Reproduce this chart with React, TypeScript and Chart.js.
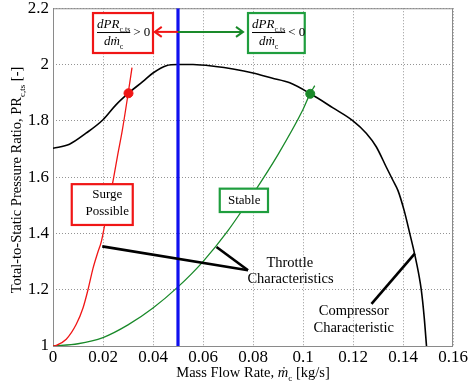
import React, { useEffect, useRef } from 'react';
import { Chart, registerables } from 'chart.js';

Chart.register(...registerables);

// ---------- data ----------
const compressorFlow = [0, 0.0066, 0.0132, 0.02, 0.025, 0.0304, 0.036, 0.04, 0.0453, 0.05, 0.056, 0.065, 0.072, 0.08, 0.0875, 0.0947, 0.103, 0.112, 0.12, 0.1253, 0.1293, 0.1333, 0.136, 0.138, 0.1405, 0.1427, 0.1453, 0.1473, 0.1485, 0.1494];
const compressorPR = [1.7025, 1.717, 1.756, 1.804, 1.855, 1.9, 1.94, 1.97, 1.996, 2.0, 2.0, 1.993, 1.984, 1.97, 1.952, 1.935, 1.896, 1.846, 1.8, 1.756, 1.708, 1.636, 1.588, 1.552, 1.48, 1.4, 1.3, 1.2, 1.1, 1.0];

const surgeThrottleFlow = [0, 0.0013, 0.0053, 0.0093, 0.012, 0.014, 0.016, 0.018, 0.0193, 0.0215, 0.0243, 0.0259, 0.0277, 0.03, 0.0316];
const surgeThrottlePR = [1, 1.002, 1.024, 1.077, 1.135, 1.2, 1.276, 1.335, 1.37, 1.47, 1.6, 1.68, 1.765, 1.894, 1.989];

const stableThrottleFlow = [0, 0.01, 0.02, 0.03, 0.04, 0.05, 0.06, 0.07, 0.08, 0.09, 0.1, 0.1027, 0.1047];
const stableThrottlePR = [1, 1.008, 1.03, 1.075, 1.135, 1.21, 1.3, 1.41, 1.54, 1.68, 1.84, 1.894, 1.925];

const operatingFlow = [0.0302, 0.1029];
const operatingPR = [1.898, 1.896];

const surgeLimitFlow = 0.05;

const xTicks = [0, 0.02, 0.04, 0.06, 0.08, 0.1, 0.12, 0.14, 0.16];
const yTicks = [1, 1.2, 1.4, 1.6, 1.8, 2, 2.2];
const xTickLabels = ['0', '0.02', '0.04', '0.06', '0.08', '0.1', '0.12', '0.14', '0.16'];
const yTickLabels = ['1', '1.2', '1.4', '1.6', '1.8', '2', '2.2'];

// ---------- styles ----------
const FONT = "'Liberation Serif','Times New Roman',Times,serif";
const RED = '#f01616';
const GREEN = '#1a8a2a';
const BOX_GREEN = '#1f9e3e';
const BLUE = '#1010ee';
const GRID = 'rgba(0,0,0,0.42)';

type Seg = { t: string; sub?: boolean; it?: boolean };

function segFont(size: number, s: Seg) {
  return `${s.it ? 'italic ' : ''}${s.sub ? Math.round(size * 0.65) : size}px ${FONT}`;
}
function richWidth(ctx: CanvasRenderingContext2D, segs: Seg[], size: number) {
  let w = 0;
  for (const s of segs) {
    ctx.font = segFont(size, s);
    w += ctx.measureText(s.t).width;
  }
  return w;
}
function drawRich(ctx: CanvasRenderingContext2D, x: number, y: number, segs: Seg[], size: number, align: 'left' | 'center') {
  const w = richWidth(ctx, segs, size);
  let cx = align === 'center' ? x - w / 2 : x;
  ctx.textAlign = 'left';
  ctx.textBaseline = 'alphabetic';
  for (const s of segs) {
    ctx.font = segFont(size, s);
    ctx.fillText(s.t, cx, y + (s.sub ? size * 0.3 : 0));
    cx += ctx.measureText(s.t).width;
  }
  return w;
}

function toPx(chart: any, x: number, y: number) {
  return [chart.scales.x.getPixelForValue(x), chart.scales.y.getPixelForValue(y)];
}

function drawArrow(ctx: CanvasRenderingContext2D, x1: number, x2: number, y: number, color: string) {
  ctx.save();
  ctx.strokeStyle = color;
  ctx.lineWidth = 2;
  ctx.lineJoin = 'miter';
  ctx.beginPath();
  ctx.moveTo(x1, y);
  ctx.lineTo(x2, y);
  ctx.stroke();
  const d = x2 > x1 ? -1 : 1;
  ctx.beginPath();
  ctx.moveTo(x2 + d * 7, y - 5);
  ctx.lineTo(x2, y);
  ctx.lineTo(x2 + d * 7, y + 5);
  ctx.stroke();
  ctx.restore();
}

function drawBox(ctx: CanvasRenderingContext2D, chart: any, x0: number, y0: number, x1: number, y1: number, color: string) {
  const [a, b] = toPx(chart, x0, y0);
  const [c, d] = toPx(chart, x1, y1);
  ctx.save();
  ctx.fillStyle = '#fff';
  ctx.fillRect(a, b, c - a, d - b);
  ctx.strokeStyle = color;
  ctx.lineWidth = 2.2;
  ctx.strokeRect(a, b, c - a, d - b);
  ctx.restore();
  return [a, b, c, d];
}

function drawFraction(ctx: CanvasRenderingContext2D, left: number, mid: number, sign: string) {
  ctx.save();
  ctx.fillStyle = '#000';
  const size = 13;
  const num: Seg[] = [{ t: 'dPR', it: true }, { t: 'c,ts', sub: true }];
  const den: Seg[] = [{ t: 'd\u1E41', it: true }, { t: 'c', sub: true }];
  const nw = richWidth(ctx, num, size);
  drawRich(ctx, left, mid - 4, num, size, 'left');
  drawRich(ctx, left + nw / 2, mid + 13, den, size, 'center');
  ctx.strokeStyle = '#000';
  ctx.lineWidth = 1;
  ctx.beginPath();
  ctx.moveTo(left, mid + 0.5);
  ctx.lineTo(left + nw, mid + 0.5);
  ctx.stroke();
  ctx.font = `${size}px ${FONT}`;
  ctx.textBaseline = 'middle';
  ctx.textAlign = 'left';
  ctx.fillText(sign, left + nw + 3, mid + 1);
  ctx.restore();
}

function centeredText(ctx: CanvasRenderingContext2D, chart: any, x: number, y: number, text: string, size: number) {
  const [px, py] = toPx(chart, x, y);
  ctx.font = `${size}px ${FONT}`;
  ctx.textAlign = 'center';
  ctx.textBaseline = 'middle';
  ctx.fillStyle = '#000';
  ctx.fillText(text, px, py);
}

function segment(ctx: CanvasRenderingContext2D, chart: any, x0: number, y0: number, x1: number, y1: number, w: number) {
  const [a, b] = toPx(chart, x0, y0);
  const [c, d] = toPx(chart, x1, y1);
  ctx.save();
  ctx.strokeStyle = '#000';
  ctx.lineWidth = w;
  ctx.lineCap = 'butt';
  ctx.beginPath();
  ctx.moveTo(a, b);
  ctx.lineTo(c, d);
  ctx.stroke();
  ctx.restore();
}

const annotationPlugin = {
  id: 'annotations',
  beforeDatasetsDraw(chart: any) {
    const { ctx, chartArea: ca } = chart;
    ctx.save();
    ctx.strokeStyle = '#8a8a8a';
    ctx.lineWidth = 1;
    ctx.strokeRect(ca.left + 0.5, ca.top + 0.5, ca.right - ca.left - 1, ca.bottom - ca.top);
    ctx.restore();
  },
  afterDatasetsDraw(chart: any) {
    const ctx: CanvasRenderingContext2D = chart.ctx;
    // leader lines
    segment(ctx, chart, 0.0197, 1.354, 0.078, 1.269, 2.6);
    segment(ctx, chart, 0.0654, 1.352, 0.078, 1.269, 2.6);
    segment(ctx, chart, 0.1447, 1.328, 0.1274, 1.15, 2.6);
    // text labels
    centeredText(ctx, chart, 0.0947, 1.296, 'Throttle', 14.5);
    centeredText(ctx, chart, 0.095, 1.236, 'Characteristics', 14.5);
    centeredText(ctx, chart, 0.1203, 1.123, 'Compressor', 14.5);
    centeredText(ctx, chart, 0.1203, 1.065, 'Characteristic', 14.5);
    // boxes
    drawBox(ctx, chart, 0.0075, 1.575, 0.0319, 1.43, RED);
    centeredText(ctx, chart, 0.0217, 1.537, 'Surge', 13);
    centeredText(ctx, chart, 0.0217, 1.478, 'Possible', 13);
    drawBox(ctx, chart, 0.0667, 1.559, 0.086, 1.476, BOX_GREEN);
    centeredText(ctx, chart, 0.0765, 1.516, 'Stable', 13);
    // top fraction boxes
    const [rl, rt, , rb] = drawBox(ctx, chart, 0.016, 2.183, 0.04, 2.041, RED);
    drawFraction(ctx, rl + 4, (rt + rb) / 2 - 1, '> 0');
    const [gl, gt, , gb] = drawBox(ctx, chart, 0.078, 2.183, 0.1007, 2.041, BOX_GREEN);
    drawFraction(ctx, gl + 4, (gt + gb) / 2 - 1, '< 0');
    // arrows
    const [bx, ay] = toPx(chart, surgeLimitFlow, 2.116);
    const [rx] = toPx(chart, 0.0407, 2.116);
    const [grx] = toPx(chart, 0.076, 2.116);
    drawArrow(ctx, bx, rx, ay, RED);
    drawArrow(ctx, bx, grx, ay, GREEN);
  },
  afterDraw(chart: any) {
    const ctx: CanvasRenderingContext2D = chart.ctx;
    ctx.save();
    ctx.fillStyle = '#000';
    const xt: Seg[] = [{ t: 'Mass Flow Rate, ' }, { t: '\u1E41', it: true }, { t: 'c', sub: true }, { t: ' [kg/s]' }];
    drawRich(ctx, 253, 377, xt, 14.5, 'center');
    ctx.translate(20.5, 180);
    ctx.rotate(-Math.PI / 2);
    const yt: Seg[] = [{ t: 'Total-to-Static Pressure Ratio, PR' }, { t: 'c,ts', sub: true }, { t: ' [-]' }];
    drawRich(ctx, 0, 0, yt, 14.5, 'center');
    ctx.restore();
  },
};

function pts(xs: number[], ys: number[]) {
  return xs.map((x, i) => ({ x, y: ys[i] }));
}

export default function App() {
  const ref = useRef<HTMLCanvasElement | null>(null);
  useEffect(() => {
    if (!ref.current) return;
    const line = (data: any[], color: string, width: number, order: number) => ({
      data,
      showLine: true,
      borderColor: color,
      backgroundColor: color,
      borderWidth: width,
      pointRadius: 0,
      cubicInterpolationMode: 'monotone' as const,
      order,
    });
    const chart = new Chart(ref.current, {
      type: 'scatter',
      data: {
        datasets: [
          {
            data: pts(operatingFlow, operatingPR),
            pointRadius: 4.5,
            pointBackgroundColor: [RED, GREEN],
            pointBorderColor: [RED, GREEN],
            showLine: false,
            order: 0,
          } as any,
          line(pts([surgeLimitFlow, surgeLimitFlow], [1, 2.2]), BLUE, 3.2, 1),
          line(pts(compressorFlow, compressorPR), '#000', 1.6, 2),
          line(pts(surgeThrottleFlow, surgeThrottlePR), RED, 1.3, 3),
          line(pts(stableThrottleFlow, stableThrottlePR), GREEN, 1.3, 4),
        ],
      },
      options: {
        responsive: false,
        animation: false,
        layout: { padding: { left: 0, right: 21, top: 0, bottom: 0 } },
        plugins: { legend: { display: false }, tooltip: { enabled: false } },
        scales: {
          x: {
            type: 'linear',
            min: 0,
            max: 0.16,
            afterBuildTicks: (s: any) => {
              s.ticks = xTicks.map((v) => ({ value: v }));
            },
            afterFit: (s: any) => {
              s.height = 35;
            },
            ticks: {
              autoSkip: false,
              maxRotation: 0,
              padding: 3,
              color: '#000',
              font: { family: FONT, size: 17, lineHeight: 1 },
              callback: (_v: any, i: number) => xTickLabels[i],
            },
            grid: { color: GRID, drawTicks: false, lineWidth: 1 },
            border: { display: false, dash: [1, 2] },
          },
          y: {
            type: 'linear',
            min: 1,
            max: 2.2,
            afterBuildTicks: (s: any) => {
              s.ticks = yTicks.map((v) => ({ value: v }));
            },
            afterFit: (s: any) => {
              s.width = 53;
            },
            ticks: {
              autoSkip: false,
              padding: 4,
              color: '#000',
              font: { family: FONT, size: 17, lineHeight: 0.5 },
              callback: (_v: any, i: number) => yTickLabels[i],
            },
            grid: { color: GRID, drawTicks: false, lineWidth: 1 },
            border: { display: false, dash: [1, 2] },
          },
        },
      } as any,
      plugins: [annotationPlugin],
    });
    return () => chart.destroy();
  }, []);
  return (
    <div style={{ position: 'fixed', left: 0, top: 0, width: 474, height: 381, background: '#fff' }}>
      <canvas ref={ref} width={474} height={381} style={{ display: 'block', width: 474, height: 381 }} />
    </div>
  );
}
